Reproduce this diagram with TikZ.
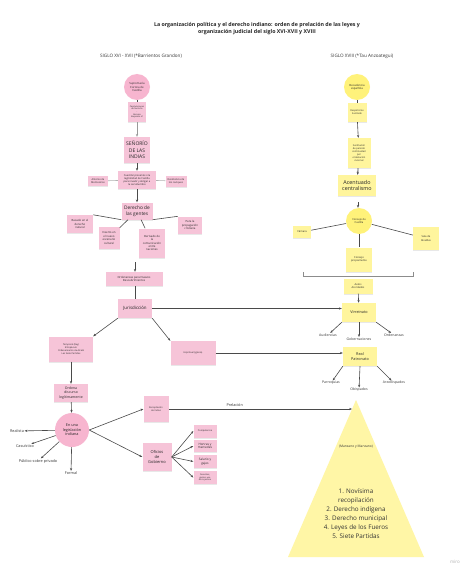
\documentclass[tikz,border=0pt]{standalone}
\usepackage{fontspec}
\setmainfont{Open Sans}
\usetikzlibrary{arrows.meta,shadows,calc}
\newcommand\fsz[2]{\fontsize{#1pt}{#2pt}\selectfont}
\definecolor{notepink}{HTML}{F6C4D8}
\definecolor{circpink}{HTML}{F7B5CF}
\definecolor{noteyel}{HTML}{FFF59D}
\definecolor{circyel}{HTML}{FFF27A}
\definecolor{triyel}{HTML}{FFF6A6}
\definecolor{linegray}{HTML}{4A4A4A}
\tikzset{
  base/.style={align=center, inner sep=0.5pt, text=black!85},
  pnote/.style={base, fill=notepink, drop shadow={opacity=0.18, shadow xshift=0pt, shadow yshift=-1pt}},
  ynote/.style={base, fill=noteyel, drop shadow={opacity=0.18, shadow xshift=0pt, shadow yshift=-1pt}},
  pcirc/.style={base, circle, fill=circpink},
  ycirc/.style={base, circle, fill=circyel},
  wh/.style 2 args={minimum width=#1pt, minimum height=#2pt},
  lbl/.style={base, text=black!80},
  conn/.style={draw=linegray, line width=0.6pt},
  arr/.style={conn, -{Stealth[length=2.8pt,width=2.2pt]}},
}
\begin{document}
\begin{tikzpicture}[x=1pt,y=-1pt]
\fill[white] (0,0) rectangle (474,575);
\useasboundingbox (0,0) rectangle (474,575);

% titles
\node[base, font=\bfseries\fsz{5.3}{7}] (title) at (257,28.5) {La organización política y el derecho indiano: orden de prelación de las leyes y\\organización judicial del siglo XVI-XVII y XVIII};
\node[lbl, font=\fsz{4.6}{5.5}] (h1) at (141,56) {SIGLO XVI - XVII (*Barrientos Grandon)};
\node[lbl, font=\fsz{4.6}{5.5}] (h2) at (362,56) {SIGLO XVIII (*Tau Anzoategui)};

% ---------------- left column ----------------
\node[pcirc, minimum size=26pt, font=\fsz{2.8}{3.4}] (sup) at (137,87) {Supremacía\\Corona de\\Castilla};
\node[pnote, wh={18}{20}, font=\fsz{2.1}{2.6}] (cap) at (137,112) {Capitulaciones\\de Santa Fe\\-\\Bula de\\Alejandro VI};
\node[pnote, wh={26}{26}, font=\fsz{5}{6.4}] (sen) at (137,150) {SEÑORÍO\\DE LAS\\INDIAS};
\node[pnote, wh={38}{18}, font=\fsz{2.5}{3}] (cue) at (137,180) {Cuestión presente si la\\legitimidad de Castilla\\para invadir y obligar a\\la servidumbre};
\node[pnote, wh={20}{10}, font=\fsz{2.5}{3}] (ant) at (98,181) {Antonio de\\Montesinos};
\node[pnote, wh={21}{11}, font=\fsz{2.5}{3}] (res) at (176,181) {Resistencia de\\los caciques};
\node[pnote, wh={31}{17}, font=\fsz{4.8}{5.8}] (der) at (137,211) {Derecho de\\las gentes};
\node[pnote, wh={26}{18}, font=\fsz{2.8}{3.4}] (bas) at (80,224) {Basado en el\\derecho\\natural};
\node[pnote, wh={21}{22}, font=\fsz{2.8}{3.4}] (ins) at (109,238) {Inserto en\\el nuevo\\escenario\\cultural};
\node[pnote, wh={26}{29}, font=\fsz{2.8}{3.4}] (dvd) at (152,243) {Derivado de\\la\\comunicación\\entre\\naciones};
\node[pnote, wh={24}{17}, font=\fsz{2.8}{3.4}] (par) at (190,225) {Para la\\propagación\\cristiana};
\node[pnote, wh={57}{14}, font=\fsz{2.8}{3.4}] (ord) at (134,279) {Ordenanzas para Nuevos\\Descubrimientos};
\node[pnote, wh={34}{19}, font=\fsz{4.4}{5.4}] (jur) at (135,308.5) {Jurisdicción};
\node[pnote, wh={44}{25}, font=\fsz{2.3}{2.8}] (tem) at (71,349) {Temporal (Rey)\\El Espéculo\\Ordenamiento de Alcalá\\Las Siete Partidas};
\node[pnote, wh={45}{24}, font=\fsz{2.3}{2.8}] (esp) at (193,353) {Espiritual (iglesia)};
\node[pnote, wh={34}{18}, font=\fsz{3.5}{4.3}] (odd) at (71,393) {Ordena\\discurso\\legítimamente};
\node[pcirc, minimum size=34pt, font=\fsz{3.8}{4.6}] (leg) at (72,430) {En una\\legislación\\indiana};
\node[lbl, font=\fsz{3.8}{4.6}] (rea) at (17,431) {Realista};
\node[lbl, font=\fsz{3.8}{4.6}] (cas) at (25,446) {Casuístico};
\node[lbl, font=\fsz{3.8}{4.6}] (pub) at (38,461) {Público sobre privado};
\node[lbl, font=\fsz{3.8}{4.6}] (for) at (71,473) {Formal};
\node[pnote, wh={25}{26}, font=\fsz{2.3}{2.8}] (rec) at (156,409) {Recopilación\\de Indias};
\node[pnote, wh={29}{28}, font=\fsz{4}{4.9}] (ofi) at (157,457) {Oficios\\de\\Gobierno};
\node[pnote, wh={23}{13}, font=\fsz{2.3}{2.8}] (com) at (205,431) {Competencia};
\node[pnote, wh={23}{12}, font=\fsz{3.1}{3.7}] (hon) at (205,446) {Honras y\\mercedes};
\node[pnote, wh={23}{13}, font=\fsz{3.1}{3.7}] (sal) at (205,461.5) {Salario y\\gajes};
\node[pnote, wh={23}{13}, font=\fsz{2.1}{2.6}] (dch) at (205,477.5) {Derechos,\\gastos, uso\\de la justicia};

% ---------------- right column ----------------
\node[ycirc, minimum size=26pt, font=\fsz{2.8}{3.4}] (dec) at (357,87) {Decadencia\\española};
\node[ynote, wh={19}{19}, font=\fsz{2.4}{2.9}] (des) at (357,112.5) {Despotismo\\ilustrado};
\node[ynote, wh={23}{30}, font=\fsz{2.4}{2.9}] (sus) at (359,153) {Sustitución\\de periodo\\continuidad\\por\\ordenación\\racional};
\node[ynote, wh={38}{21}, font=\fsz{5.4}{6.4}] (ace) at (357,185.5) {Acentuado\\centralismo};
\node[ycirc, minimum size=26pt, font=\fsz{2.6}{3.2}] (con) at (359,221) {Consejo de\\Castilla};
\node[ynote, wh={18}{12}, font=\fsz{2.6}{3.2}] (cam) at (302,232) {Cámara};
\node[ynote, wh={26}{23}, font=\fsz{2.6}{3.2}] (sala) at (426,238.5) {Sala de\\Alcaldes};
\node[ynote, wh={26}{24}, font=\fsz{2.6}{3.2}] (cpl) at (359,259.5) {Consejo\\propiamente};
\node[ynote, wh={29}{15}, font=\fsz{2.6}{3.2}] (aut) at (358,286) {Autos\\Acordados};
\node[ynote, wh={34}{19}, font=\fsz{3.8}{4.6}] (vir) at (359,312.5) {Virreinato};
\node[lbl, font=\fsz{3.5}{4.2}] (aud) at (328,335) {Audiencias};
\node[lbl, font=\fsz{3.5}{4.2}] (gob) at (359,339) {Gobernaciones};
\node[lbl, font=\fsz{3.5}{4.2}] (odz) at (394,335) {Ordenanzas};
\node[ynote, wh={34}{19}, font=\fsz{3.8}{4.6}] (rp) at (360,356.5) {Real\\Patronato};
\node[lbl, font=\fsz{3.5}{4.2}] (prr) at (331,383) {Parroquias};
\node[lbl, font=\fsz{3.5}{4.2}] (obi) at (359,390) {Obispados};
\node[lbl, font=\fsz{3.5}{4.2}] (arz) at (394,383) {Arzobispados};

% pyramid
\fill[triyel] (356,400) -- (424,557) -- (288,557) -- cycle;
\coordinate (apex) at (352,409);
\node[lbl, font=\fsz{3.3}{4}] (man) at (356,447) {(Manzano y Manzano)};
\node[lbl, font=\fsz{6.3}{9.1}] (lst) at (356,513.5) {1. Novísima\\recopilación\\2. Derecho indígena\\3. Derecho municipal\\4. Leyes de los Fueros\\5. Siete Partidas};
\node[lbl, text=black!30, font=\fsz{4.5}{5}] (miro) at (455,562) {miro};

% ---------------- connectors left ----------------
\draw[conn] (sup) -- (cap);
\draw[arr, draw=black!40] (cap) -- (sen);
\draw[arr] (sen) -- (cue);
\draw[conn, draw=black!30] (ant) -- (cue);
\draw[conn, draw=black!30] (cue) -- (res);
\draw[arr] (cue) -- (der);
\draw[conn] (der.south west) -- (bas.north east);
\draw[conn] (der) -- (ins);
\draw[conn] (der) -- (dvd);
\draw[conn] (der.south east) -- (par.north west);
\coordinate (ordin) at (135,262);
\draw[arr] (ordin) -- (ord.north -| ordin);
\draw[conn] (ord.south -| jur) -- (jur);
\draw[arr] (jur.south west) -- (tem.north east);
\draw[arr] (jur.south east) -- (esp.north west);
\draw[arr] (jur.east) -- (jur.east -| vir.west);
\draw[arr] (esp.east) -- (esp.east -| rp.west);
\draw[arr] (tem) -- (odd);
\draw[arr] (odd) -- (leg);
\draw[arr] (leg) -- (rea);
\draw[arr] (leg) -- (cas);
\draw[arr] (leg) -- (pub);
\draw[arr] (leg) -- (for);
\draw[arr] (leg.east) -- (rec.west);
\draw[arr] (leg.east) -- (ofi.west);
\draw[arr] (rec.east) -- node[lbl, above=1.5pt, font=\fsz{3.8}{4.6}, pos=0.36] (pre) {Prelación} (apex);
\draw[arr] (ofi.east) -- (com.west);
\draw[arr] (ofi.east) -- (hon.west);
\draw[arr] (ofi.east) -- (sal.west);
\draw[arr] (ofi.east) -- (dch.west);

% ---------------- connectors right ----------------
\draw[conn] (dec) -- (des);
\draw[arr] (des) -- (sus);
\draw[arr, line width=0.8pt] (sus) -- (ace);
\coordinate (conin) at (358,202);
\draw[arr] (conin) -- (con.north -| conin);
\draw[conn] (con) -- (cam);
\draw[conn] (con) -- (sala);
\draw[conn] (con) -- (cpl);
\coordinate (brl) at (303,272);
\coordinate (brr) at (413,272);
\draw[conn, draw=black!45] (brl) -- ++(0,4) -- ($(brr)+(0,4)$) -- (brr);
\draw[arr] (aut) -- (vir);
\draw[arr] (vir.south west) -- (aud);
\draw[arr] (vir.south) -- (gob);
\draw[arr] (vir.south east) -- (odz);
\draw[arr] (rp.south west) -- (prr);
\draw[arr] (rp.south) -- (obi);
\draw[arr] (rp.south east) -- (arz);
\end{tikzpicture}
\end{document}
